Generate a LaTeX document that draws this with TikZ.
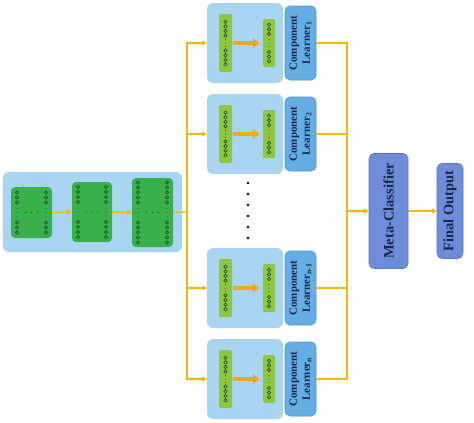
\documentclass[tikz,border=0pt]{standalone}
\usepackage{fontspec}
\setmainfont{Liberation Serif}
\usetikzlibrary{arrows.meta}
\definecolor{lightb}{HTML}{A9D4F2}
\definecolor{clb}{HTML}{64AEE3}
\definecolor{clbd}{HTML}{4F94CC}
\definecolor{metab}{HTML}{6E8DD9}
\definecolor{metad}{HTML}{5876C4}
\definecolor{gr}{HTML}{39B04A}
\definecolor{sg}{HTML}{8DC63F}
\definecolor{cg}{HTML}{1E5A26}
\definecolor{orng}{HTML}{F7B50E}
\definecolor{orng2}{HTML}{F7A91B}
\definecolor{navy}{HTML}{1B2750}
\newcommand\gcol[3]{%
  \foreach \k in {1,...,#3}{%
    \draw[circ] (#1,{#2-10-(\k-1)*5}) circle (1.7pt);
    \draw[circ] (#1,{#2+10+(\k-1)*5}) circle (1.7pt);}%
  \foreach \d in {-4,0,4}{\fill[cg] (#1,{#2+\d}) circle (0.5pt);}}
\newcommand\scol[4]{%
  \foreach \k in {1,...,#3}{%
    \draw[circ] (#1,{#2-#4-(\k-1)*4.6}) circle (1.7pt);
    \draw[circ] (#1,{#2+#4+(\k-1)*4.6}) circle (1.7pt);}%
  \foreach \d in {-3.5,0,3.5}{\fill[cg] (#1,{#2+\d}) circle (0.5pt);}}
\begin{document}
\begin{tikzpicture}[x=1pt,y=-1pt,
  every node/.style={inner sep=0pt},
  outer/.style={fill=lightb, rounded corners=6pt},
  gbox/.style={fill=gr, rounded corners=4pt},
  strip/.style={fill=sg, rounded corners=1.5pt},
  circ/.style={draw=cg, line width=0.7pt},
  clbox/.style={fill=clb, draw=clbd, line width=0.6pt, rounded corners=5pt, rotate=90,
    minimum width=74pt, minimum height=31pt, align=center, text=navy,
    font=\bfseries\fontsize{11}{13}\selectfont},
  metabox/.style={fill=metab, draw=metad, line width=0.6pt, rounded corners=5pt, rotate=90,
    text=navy, font=\bfseries\fontsize{14.5}{16}\selectfont},
  bus/.style={draw=orng, line width=1.3pt},
  busarrow/.style={bus, -{Triangle[width=5pt,length=4.5pt]}},
  bigarrow/.style={draw=orng2, line width=3.5pt, -{Triangle[width=10pt,length=7pt]}}]
\useasboundingbox[fill=white] (0,0) rectangle (474,423);
% encoder block
\node[outer, minimum width=179pt, minimum height=80pt] (enc) at (92.5,212) {};
\node[gbox, minimum width=41pt, minimum height=51pt] (g1) at (31.5,212.5) {};
\node[gbox, minimum width=40pt, minimum height=60pt] (g2) at (92,212) {};
\node[gbox, minimum width=41pt, minimum height=69pt] (g3) at (152.5,212.5) {};
\gcol{17}{212.5}{3}\gcol{46}{212.5}{3}
\gcol{78}{212}{4}\gcol{106}{212}{4}
\gcol{138}{212.5}{5}\gcol{167}{212.5}{5}
\foreach \cx/\cy in {31.5/212.5,92/212,152.5/212.5}
  \foreach \d in {-6,0,6}{\fill[cg] ({\cx+\d},\cy) circle (0.6pt);}
\draw[busarrow] (g1.east) -- (g2.west);
\draw[busarrow] (g2.east) -- (g3.west);
\coordinate (split) at (187,212);
\coordinate (merge) at (347,211);
\draw[bus] (g3.east) -- (split);
% component learners
\foreach \cy/\sub/\i in {43/1/1, 134/2/2, 288/{n-1}/3, 379/n/4}{
  \node[outer, minimum width=76pt, minimum height=80pt] (lb\i) at (245,\cy) {};
  \node[strip, minimum width=13pt, minimum height=58pt] (sa\i) at (225.5,\cy) {};
  \node[strip, minimum width=12pt, minimum height=48pt] (sb\i) at (269,\cy) {};
  \scol{225.5}{\cy}{4}{7.5}
  \scol{269}{\cy}{3}{9}
  \draw[bigarrow, shorten <=1pt, shorten >=3pt] (sa\i.east) -- (sb\i.west);
  \node[clbox] (cl\i) at (300.5,\cy) {Component\\Learner\textsubscript{\sub}};
  \draw[busarrow] (split) |- (lb\i.west);
  \draw[bus] (cl\i.south) -| (merge);
}
\foreach \yy in {183,194,205,216,227,238}{\fill[black] (248,\yy) circle (1.3pt);}
\node[metabox, minimum width=115pt, minimum height=39pt] (meta) at (388.5,211) {Meta-Classifier};
\node[metabox, minimum width=95pt, minimum height=26pt] (final) at (450,211) {Final Output};
\draw[busarrow] (merge) -- (meta.north);
\draw[busarrow] (meta.south) -- (final.north);
\end{tikzpicture}
\end{document}
